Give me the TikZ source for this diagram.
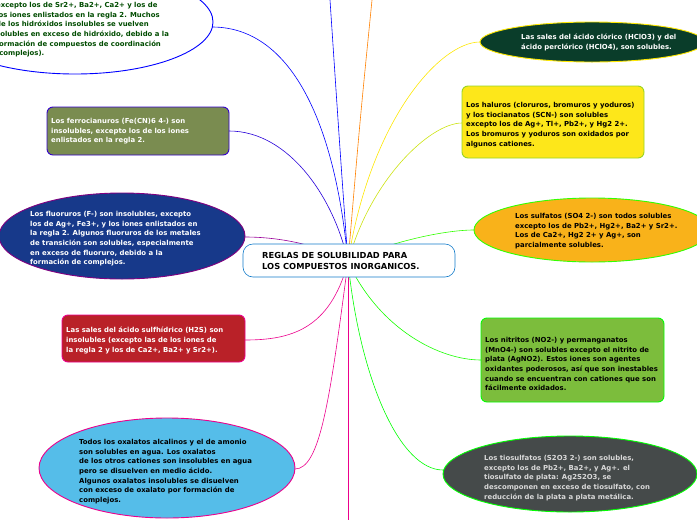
\documentclass[tikz,border=0pt]{standalone}
\usepackage{fontspec}
\setmainfont{DejaVu Sans}
\usetikzlibrary{shapes.geometric}
\begin{document}
\begin{tikzpicture}[x=1pt,y=-1pt,
 txt/.style={font=\bfseries\fontsize{6.9}{9.7}\selectfont,align=left,inner sep=0},
 ell/.style={ellipse,draw,line width=0.9pt},
 box/.style={rounded corners=6pt,draw,line width=0.9pt},
 con/.style={line width=0.6pt}]
\clip (0,0) rectangle (697,520);
\useasboundingbox (0,0) rectangle (697,520);
\coordinate (h) at (348,262);
\coordinate (t1) at (330,0);
\coordinate (t2) at (372,0);
\coordinate (b1) at (348,520);
% connectors
\draw[con,blue] (h) .. controls (340,150) .. (t1);
\draw[con,orange] (h) .. controls (360,120) .. (t2);
\draw[con,blue] (h) .. controls (335,120) and (290,27) .. (212,27);
\draw[con,blue!70!violet] (h) .. controls (335,200) and (290,131) .. (229,131);
\draw[con,violet!80!magenta] (h) .. controls (320,245) and (280,237) .. (245,237);
\draw[con,magenta] (h) .. controls (330,330) and (290,340) .. (245,340);
\draw[con,magenta] (h) .. controls (330,400) and (320,469) .. (295,469);
\draw[con,magenta] (h) -- (b1);
\draw[con,yellow!90!orange] (h) .. controls (370,120) and (440,42) .. (480,42);
\draw[con,yellow!80!green] (h) .. controls (370,180) and (430,123) .. (462,123);
\draw[con,green!80!yellow] (h) .. controls (380,245) and (440,230) .. (474,230);
\draw[con,green!90!yellow] (h) .. controls (380,330) and (440,360) .. (481,360);
\draw[con,green] (h) .. controls (360,380) and (400,470) .. (443,470);
% central
\draw[draw=cyan!60!blue,line width=0.6pt,fill=white,rounded corners=10pt] (243,244) rectangle (455,277);
\node[font=\bfseries\fontsize{8.3}{11}\selectfont,align=left,anchor=west,inner sep=0] (c) at (262,260.5) {REGLAS DE SOLUBILIDAD PARA\\LOS COMPUESTOS INORGANICOS.};
% left
\draw[ell,blue,fill=white] (75,22) ellipse (138 and 52);
\node[txt,anchor=north west,text=black!70!green] (n1) at (-4,-8) {Los hidróxidos (OH-) son insolubles,\\excepto los de Sr2+, Ba2+, Ca2+ y los de\\los iones enlistados en la regla 2. Muchos\\de los hidróxidos insolubles se vuelven\\solubles en exceso de hidróxido, debido a la\\formación de compuestos de coordinación\\(complejos).};
\draw[box,blue!60!violet,fill={rgb,255:red,122;green,140;blue,80}] (47,107) rectangle (229,155);
\node[txt,text=white,anchor=north west] (n2) at (51,118) {Los ferrocianuros (Fe(CN)6 4-) son\\insolubles, excepto los de los iones\\enlistados en la regla 2.};
\draw[ell,violet,fill={rgb,255:red,23;green,57;blue,138}] (122,236) ellipse (123 and 43);
\node[txt,text=white,anchor=north west] (n3) at (30,211) {Los fluoruros (F-) son insolubles, excepto\\los de Ag+, Fe3+, y los iones enlistados en\\la regla 2. Algunos fluoruros de los metales\\de transición son solubles, especialmente\\en exceso de fluoruro, debido a la\\formación de complejos.};
\draw[box,magenta,fill={rgb,255:red,185;green,33;blue,40}] (62,315) rectangle (245,362);
\node[txt,text=white,anchor=north west] (n4) at (66,327) {Las sales del ácido sulfhídrico (H2S) son\\insolubles (excepto las de los iones de\\la regla 2 y los de Ca2+, Ba2+ y Sr2+).};
\draw[ell,magenta,fill={rgb,255:red,85;green,189;blue,233}] (167,468) ellipse (128 and 50);
\node[txt,anchor=north west] (n5) at (79,439) {Todos los oxalatos alcalinos y el de amonio\\son solubles en agua. Los oxalatos\\de los otros cationes son insolubles en agua\\pero se disuelven en medio ácido.\\Algunos oxalatos insolubles se disuelven\\con exceso de oxalato por formación de\\complejos.};
% right
\draw[ell,yellow!90!orange,fill={rgb,255:red,10;green,61;blue,42}] (592,42) ellipse (112 and 20);
\node[txt,text=white,anchor=north west] (n6) at (521,34) {Las sales del ácido clórico (HClO3) y del\\ácido perclórico (HClO4), son solubles.};
\draw[box,yellow!60!green,fill={rgb,255:red,253;green,231;blue,26}] (462,86) rectangle (644,158);
\node[txt,anchor=north west] (n7) at (466,102) {Los haluros (cloruros, bromuros y yoduros)\\y los tiocianatos (SCN-) son solubles\\excepto los de Ag+, Tl+, Pb2+, y Hg2 2+.\\Los bromuros y yoduros son oxidados por\\algunos cationes.};
\draw[ell,green!80!yellow,fill={rgb,255:red,249;green,178;blue,26}] (592,230) ellipse (118 and 32);
\node[txt,anchor=north west] (n8) at (515,213) {Los sulfatos (SO4 2-) son todos solubles\\excepto los de Pb2+, Hg2+, Ba2+ y Sr2+.\\Los de Ca2+, Hg2 2+ y Ag+, son\\parcialmente solubles.};
\draw[box,green,fill={rgb,255:red,124;green,189;blue,60}] (481,318) rectangle (664,402);
\node[txt,anchor=north west] (n9) at (485,337) {Los nitritos (NO2-) y permanganatos\\(MnO4-) son solubles excepto el nitrito de\\plata (AgNO2). Estos iones son agentes\\oxidantes poderosos, así que son inestables\\cuando se encuentran con cationes que son\\fácilmente oxidados.};
\draw[ell,green,fill={rgb,255:red,69;green,74;blue,74}] (570,474) ellipse (127 and 38);
\node[txt,text=black!15,anchor=north west] (n10) at (484,455) {Los tiosulfatos (S2O3 2-) son solubles,\\excepto los de Pb2+, Ba2+, y Ag+. el\\tiosulfato de plata: Ag2S2O3, se\\descomponen en exceso de tiosulfato, con\\reducción de la plata a plata metálica.};
\end{tikzpicture}
\end{document}
